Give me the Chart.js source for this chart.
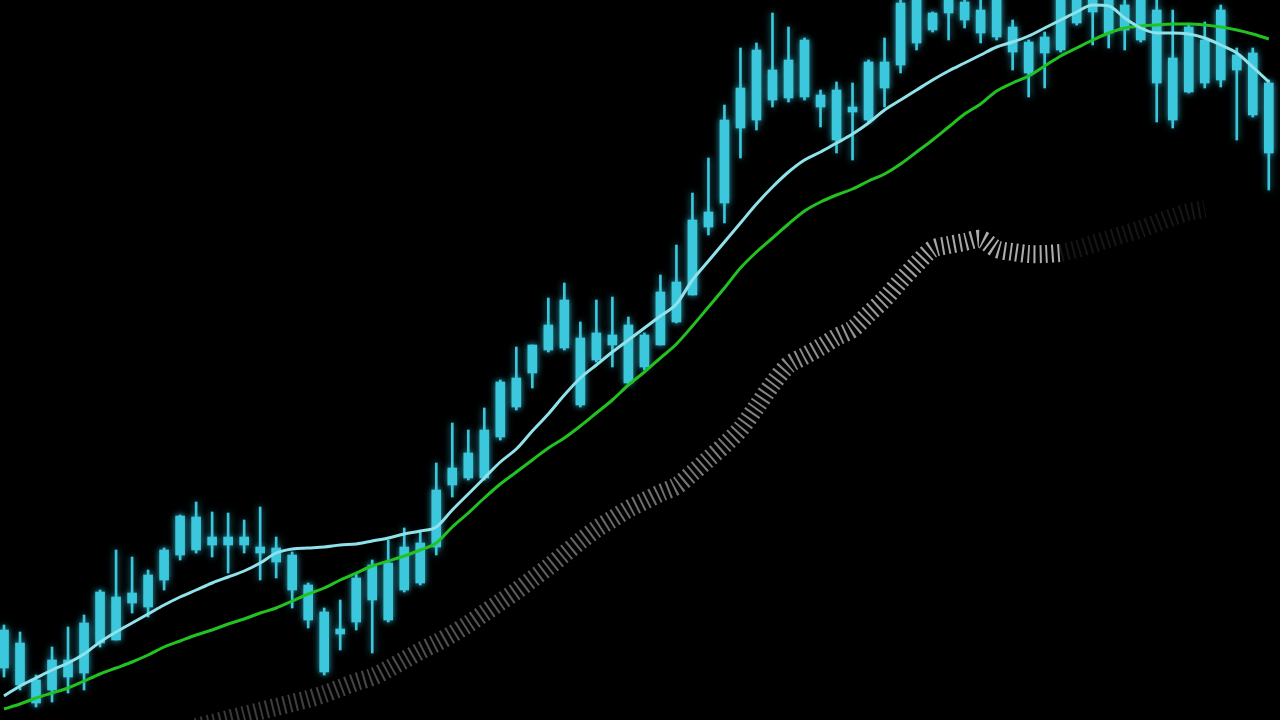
<!DOCTYPE html>
<html>
<head>
<meta charset="utf-8">
<script src="https://cdn.jsdelivr.net/npm/chart.js@4.4.1/dist/chart.umd.min.js"></script>
<style>
  html, body { margin: 0; padding: 0; background: #000; }
  #wrap { width: 1280px; height: 720px; background: #000; }
</style>
</head>
<body>
<div id="wrap"><canvas id="myChart" width="1280" height="720"></canvas></div>
<script>
// candles (price units = 720 - pixel row)
const open = [52,35,17,30,43,47,77,80,117,113,
  140,165,170,175,175,175,167,158,130,100,
  48,86,98,120,100,130,137,173,235,242,
  242,283,313,347,370,372,315,360,375,337,
  353,375,398,425,493,517,592,600,620,622,
  623,613,580,608,600,632,655,677,690,707,
  700,687,683,668,647,667,670,697,708,687,
  690,680,637,600,628,637,640,650,605,567];
const close = [90,77,40,60,60,97,128,123,127,145,
  170,204,203,183,183,183,173,172,165,135,
  108,91,142,155,157,173,177,230,252,267,
  290,338,342,375,395,420,382,387,385,395,
  385,428,438,500,508,600,632,670,650,660,
  680,625,630,613,658,658,717,725,707,723,
  718,710,723,693,678,683,725,725,725,725,
  715,725,710,662,693,680,710,665,667,637];
const high = [95,88,45,73,93,105,130,170,163,150,
  172,205,218,208,207,200,213,183,168,137,
  112,120,147,160,180,192,188,257,297,290,
  312,340,373,375,422,437,398,420,423,403,
  387,445,475,527,562,615,672,677,707,693,
  682,630,638,637,660,682,725,730,708,730,
  725,725,728,700,680,688,730,730,730,730,
  725,730,725,710,695,698,715,672,672,640];
const low = [43,30,13,18,27,30,73,80,107,103,
  130,160,167,163,147,167,140,142,112,92,
  45,70,90,67,98,128,135,165,223,240,
  240,280,310,332,368,370,313,358,353,335,
  350,375,397,425,485,497,562,590,613,618,
  620,593,567,560,598,613,647,670,688,680,
  692,677,680,650,623,632,668,695,675,672,
  670,678,598,592,627,632,633,580,603,530];

// moving averages
const maFast = [24,34,42,50,57,66,78,88,97,106,
  115,123,130,137,143,149,157,167,171,172,
  173,175,176,179,182,186,189,193,210,226,
  242,258,271,289,306,325,342,355,368,380,
  392,404,416,440,459,478,497,516,533,548,
  560,568,577,586,597,610,620,630,640,649,
  657,665,673,678,684,692,700,708,715,714,
  702,692,687,687,686,682,675,667,653,638];
const maSlow = [11,16,22,27,32,39,46,52,58,65,
  73,79,85,90,96,101,107,112,119,126,
  132,140,147,154,159,164,170,177,193,207,
  222,236,248,260,272,282,294,307,320,335,
  348,362,376,394,413,432,452,468,482,496,
  509,518,525,531,539,546,556,568,580,593,
  606,616,629,637,644,654,664,672,680,687,
  692,694,695,696,696,695,693,690,686,681];

// hatched grey indicator band (centre of the band)
const band = [null,null,null,null,null,null,null,null,null,null,
  null,null,-7,-3,1,5,9,13,17,21,
  26,32,38,43,51,60,69,77,86,96,
  107,118,129,141,153,166,179,191,201,211,
  219,227,234,247,261,275,291,313,336,355,
  364,373,383,391,406,421,439,456,471,475,
  478,481,471,468,466,466,467,null,null,null,
  null,null,null,null,null,null,null,null,null,null];
const bandFaint = [null,null,null,null,null,null,null,null,null,null,
  null,null,null,null,null,null,null,null,null,null,
  null,null,null,null,null,null,null,null,null,null,
  null,null,null,null,null,null,null,null,null,null,
  null,null,null,null,null,null,null,null,null,null,
  null,null,null,null,null,null,null,null,null,null,
  null,null,null,null,null,null,467,471,476,481,
  486,491,497,503,508,511,null,null,null,null];

let wicks = [], bodies = [], fast = [], slow = [], hatch = [], hatchFaint = [];
for (let i = 0; i < open.length; i++) {
  wicks.push({x: i, y: [low[i], high[i]]});
  bodies.push({x: i, y: [open[i], close[i]]});
  fast.push({x: i, y: maFast[i]});
  slow.push({x: i, y: maSlow[i]});
  if (band[i] !== null) hatch.push({x: i, y: band[i]});
  if (bandFaint[i] !== null) hatchFaint.push({x: i, y: bandFaint[i]});
}

// soft glow around the candles
const glow = {
  id: 'glow',
  beforeDatasetDraw(chart, args) {
    const ds = chart.data.datasets[args.index];
    if (!ds.glow) return;
    chart.ctx.save();
    chart.ctx.shadowColor = ds.glow;
    chart.ctx.shadowBlur = 7;
  },
  afterDatasetDraw(chart, args) {
    const ds = chart.data.datasets[args.index];
    if (!ds.glow) return;
    chart.ctx.restore();
  }
};

// band gets brighter towards the top right
function bandColor(c) {
  const area = c.chart.chartArea;
  if (!area) return 'rgba(185,185,185,0.6)';
  const g = c.chart.ctx.createLinearGradient(area.left + 180, area.bottom, area.left + 980, area.top + 230);
  g.addColorStop(0, 'rgba(150,150,150,0.35)');
  g.addColorStop(1, 'rgba(215,215,215,0.8)');
  return g;
}

const candleColor = '#3cc8dc';
const ctx = document.getElementById('myChart').getContext('2d');
const myChart = new Chart(ctx, {
  type: 'bar',
  data: {
    datasets: [
      {
        type: 'line', label: 'MA fast', data: fast, order: 0,
        borderColor: '#8fe2ea', borderWidth: 3, pointRadius: 0,
        cubicInterpolationMode: 'monotone'
      },
      {
        type: 'line', label: 'MA slow', data: slow, order: 1,
        borderColor: '#22c320', borderWidth: 3, pointRadius: 0,
        cubicInterpolationMode: 'monotone'
      },
      {
        label: 'body', data: bodies, order: 2, grouped: false,
        backgroundColor: candleColor, barThickness: 9, glow: 'rgba(60,200,225,0.7)'
      },
      {
        label: 'wick', data: wicks, order: 3, grouped: false,
        backgroundColor: candleColor, barThickness: 2, glow: 'rgba(60,200,225,0.7)'
      },
      {
        type: 'line', label: 'band', data: hatch, order: 4,
        borderColor: bandColor, borderWidth: 18, borderDash: [2, 4],
        borderCapStyle: 'butt', pointRadius: 0, tension: 0.3
      },
      {
        type: 'line', label: 'band faint', data: hatchFaint, order: 5,
        borderColor: 'rgba(110,130,120,0.18)', borderWidth: 18, borderDash: [2, 4],
        borderCapStyle: 'butt', pointRadius: 0, tension: 0.3
      }
    ]
  },
  options: {
    responsive: false,
    animation: false,
    layout: { padding: 0 },
    plugins: { legend: { display: false }, tooltip: { enabled: false } },
    scales: {
      x: { type: 'linear', min: -0.25, max: 79.7, offset: false, display: false },
      y: { min: 0, max: 720, display: false }
    }
  },
  plugins: [glow]
});
</script>
</body>
</html>
